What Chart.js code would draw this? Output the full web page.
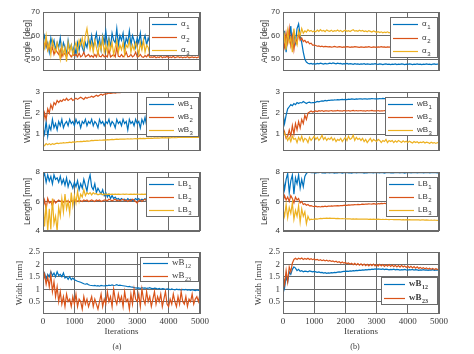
<!DOCTYPE html>
<html>
<head>
<meta charset="utf-8">
<script src="https://cdn.jsdelivr.net/npm/chart.js@4.4.1/dist/chart.umd.min.js"></script>
<style>
  html, body { margin: 0; padding: 0; background: #fff; }
  #page { position: relative; width: 474px; height: 354px; overflow: hidden; }
  #page canvas { position: absolute; }
  .cap { position: absolute; width: 40px; text-align: center; font: 8px "Liberation Serif", serif; color: #3a3a3a; line-height: 10px; }
</style>
</head>
<body>
<div id="page">
  <canvas id="a1" width="237" height="80" style="left:0;top:0"></canvas>
  <canvas id="b1" width="237" height="80" style="left:237px;top:0"></canvas>
  <canvas id="a2" width="237" height="80" style="left:0;top:80px"></canvas>
  <canvas id="b2" width="237" height="80" style="left:237px;top:80px"></canvas>
  <canvas id="a3" width="237" height="80" style="left:0;top:160px"></canvas>
  <canvas id="b3" width="237" height="80" style="left:237px;top:160px"></canvas>
  <canvas id="a4" width="237" height="114" style="left:0;top:240px"></canvas>
  <canvas id="b4" width="237" height="114" style="left:237px;top:240px"></canvas>
  <div class="cap" style="left:97px;top:342px">(a)</div>
  <div class="cap" style="left:335px;top:342px">(b)</div>
</div>
<script>
// iteration axis shared by every panel
const iterations = [0,50,100,150,200,250,300,350,400,450,
  500,550,600,650,700,750,800,850,900,950,
  1000,1050,1100,1150,1200,1250,1300,1350,1400,1450,
  1500,1550,1600,1650,1700,1750,1800,1850,1900,1950,
  2000,2050,2100,2150,2200,2250,2300,2350,2400,2450,
  2500,2550,2600,2650,2700,2750,2800,2850,2900,2950,
  3000,3050,3100,3150,3200,3250,3300,3350,3400,3450,
  3500,3550,3600,3650,3700,3750,3800,3850,3900,3950,
  4000,4050,4100,4150,4200,4250,4300,4350,4400,4450,
  4500,4550,4600,4650,4700,4750,4800,4850,4900,4950,
  5000];
const xTicks = [0, 1000, 2000, 3000, 4000, 5000];
const angleTicks = [50, 60, 70];
const widthTicks = [1, 2, 3];
const lengthTicks = [4, 6, 8];
const jointTicks = [0.5, 1, 1.5, 2, 2.5];

const angleLabels = ['α1', 'α2', 'α3'];
const widthLabels = ['wB1', 'wB2', 'wB3'];
const lengthLabels = ['LB1', 'LB2', 'LB3'];
const jointLabels = ['wB12', 'wB23'];

// (a) angles
const angleA1 = [58,60,55,57,53,59,56,58,54,57, 55,59,53,57,55,52,58,54,56,53,
  56,52,57,54,58,55,53,57,55,59, 56,60,55,58,61,56,59,54,60,57,
  62,56,59,55,61,58,57,63,56,60, 58,61,55,59,57,62,56,60,58,55,
  59,57,61,55,58,60,56,59,57,54, 58,60,56,59,61,57,55,60,58,64,
  57,59,55,58,60,56,59,57,55,58, 60,56,58,55,59,57,61,56,58,62, 59];
const angleA2 = [57,55,58,54,56,53,55,52,54,53, 52,54,51,53,52,51,53,52,51,52,
  51.5,52,51,52.5,51,51.5,53,51,51.5,52, 51,51.5,50.8,52,51,53,51.2,51,52,51,
  51.5,51,54,51,51.5,52,51,55,51.2,51, 52,51,51.5,53,51,51.2,52,51,51.5,53,
  51,51.2,52,51,50.8,51.5,51,52,50.8,51, 50.8,51.2,50.6,51,50.7,51.3,50.6,51,50.8,51.2,
  50.6,51,50.7,51.2,50.6,50.9,51.1,50.7,51,50.6, 50.9,50.7,51.1,50.6,50.8,51,50.7,50.9,50.6,51, 50.8];
const angleA3 = [59,55,60,54,57,52,58,55,53,57, 54,50,56,52,55,49,57,53,56,52,
  55,57,53,58,56,59,55,60,63,58, 54,57,53,58,55,52,57,54,59,53,
  56,53,58,54,57,52,55,58,53,56, 54,57,52,56,55,58,53,56,54,57,
  55,52,57,54,58,53,56,55,52,57, 54,56,53,58,55,52,57,54,56,53,
  57,54,56,53,58,55,52,56,54,57, 53,56,55,52,57,54,56,53,58,55, 56];

// (b) angles
const angleB1 = [56,62,53,60,58,64,55,61,57,63, 65,60,57,53,50,48.8,48.3,48.0,48.2,47.9,
  48.1,47.9,48.2,48.0,48.3,48.1,47.9,48.2,48.0,48.1, 48.3,48.1,48.4,48.2,48.0,48.3,48.1,48.2,47.9,48.1,
  48.0,48.2,47.9,48.1,48.0,47.8,48.1,47.9,48.0,47.8, 48.0,47.9,48.1,47.8,48.0,47.9,47.8,48.0,47.9,48.1,
  47.9,47.8,48.0,47.9,47.7,47.9,48.0,47.8,47.9,47.7, 47.9,47.8,48.0,47.7,47.9,47.8,48.0,47.9,47.7,47.9,
  47.8,48.0,47.9,47.7,47.9,47.8,48.0,47.8,47.9,47.7, 47.9,47.8,48.0,47.8,47.9,47.7,47.9,48.0,47.8,47.9, 47.9];
const angleB2 = [58,55,61,57,63,56,60,54,59,57, 61,58,59,57.5,58,57,57.5,56.5,56.8,56,
  56,55.8,55.5,55.6,55.3,55.5,55.2,55.4,55.3,55.2, 55.3,55.1,55.2,55.4,55.2,55.1,55.3,55.2,55.0,55.2,
  55.1,55.3,55.2,55.0,55.2,55.1,55.3,55.2,55.1,55.0, 55.2,55.1,55.0,55.2,55.1,55.3,55.1,55.0,55.2,55.1,
  55.0,55.2,55.1,55.3,55.1,55.2,55.0,55.2,55.1,55.2, 55.1,55.3,55.2,55.1,55.3,55.2,55.4,55.2,55.3,55.2,
  55.3,55.2,55.4,55.3,55.2,55.4,55.3,55.5,55.3,55.4, 55.3,55.5,55.4,55.3,55.5,55.4,55.6,55.4,55.5,55.6, 55.5];
const angleB3 = [55,60,54,62,57,59,53,63,58,56, 62,60,63,61,62,61.5,62.5,61.8,62.2,61.6,
  62.0,61.6,62.3,61.8,62.5,61.9,62.2,61.7,62.4,62.0, 61.8,62.3,61.7,62.1,61.9,62.4,61.8,62.2,61.6,62.0,
  62.3,61.8,62.1,61.7,62.2,62.5,61.9,62.1,61.8,62.3, 61.9,62.2,61.7,62.0,61.6,62.1,61.8,61.5,62.0,61.7,
  61.4,61.7,61.3,61.6,61.2,61.5,61.3,61.6,61.2,61.4, 61.3,61.5,61.2,61.4,61.1,61.3,61.0,61.4,61.2,61.1,
  61.3,61.0,61.2,60.9,61.1,61.2,60.9,61.1,60.8,61.0, 60.9,61.1,60.8,61.0,60.7,60.9,60.6,60.8,60.7,60.9, 60.6];

// (a) widths
const widthA1 = [1.3,1.0,1.6,0.9,1.4,1.2,1.7,1.3,1.5,1.2, 1.6,1.4,1.7,1.3,1.5,1.6,1.4,1.7,1.5,1.6,
  1.4,1.7,1.5,1.6,1.3,1.6,1.5,1.7,1.4,1.6, 1.5,1.7,1.4,1.6,1.5,1.3,1.7,1.5,1.6,1.4,
  1.6,1.5,1.7,1.4,1.6,1.5,1.3,1.7,1.5,1.6, 1.4,1.7,1.5,1.6,1.2,1.7,1.5,1.6,1.4,1.7,
  1.5,1.6,1.3,1.7,1.5,1.8,1.4,1.6,1.7,1.5, 1.8,1.4,1.7,1.9,1.5,1.8,1.6,1.9,1.7,1.8,
  1.9,1.7,1.8,1.6,1.9,1.7,1.8,1.9,1.7,1.8, 1.6,1.9,1.7,1.8,1.9,1.6,1.8,1.7,1.9,2.0, 1.8];
const widthA2 = [1.4,2.0,1.7,2.2,2.0,2.4,2.2,2.5,2.4,2.6, 2.5,2.6,2.55,2.65,2.6,2.7,2.6,2.65,2.7,2.6,
  2.65,2.7,2.65,2.7,2.75,2.7,2.65,2.75,2.7,2.75, 2.75,2.8,2.75,2.8,2.85,2.8,2.85,2.9,2.85,2.9,
  2.9,2.92,2.95,2.93,2.95,2.97,2.95,2.97,2.98,2.97, 2.98,2.99,2.98,3.0,2.99,3.0,2.99,3.0,3.0,2.99,
  3.0,2.99,3.0,3.0,2.99,3.0,3.0,2.99,3.0,3.0, 2.99,3.0,3.0,2.99,3.0,3.0,3.0,2.99,3.0,3.0,
  3.0,2.99,3.0,3.0,3.0,2.99,3.0,3.0,2.99,3.0, 3.0,3.0,2.99,3.0,3.0,2.99,3.0,3.0,3.0,2.99, 3.0];
const widthA3 = [0.5,0.45,0.55,0.5,0.55,0.5,0.55,0.52,0.55,0.57, 0.55,0.58,0.57,0.6,0.58,0.6,0.6,0.62,0.6,0.63,
  0.62,0.63,0.65,0.64,0.66,0.65,0.67,0.66,0.68,0.67, 0.68,0.7,0.69,0.7,0.71,0.7,0.72,0.71,0.72,0.73,
  0.72,0.74,0.73,0.74,0.75,0.74,0.75,0.76,0.75,0.76, 0.76,0.77,0.76,0.77,0.78,0.77,0.78,0.77,0.78,0.79,
  0.78,0.79,0.8,0.79,0.8,0.79,0.8,0.81,0.8,0.81, 0.8,0.82,0.81,0.82,0.81,0.82,0.83,0.82,0.83,0.82,
  0.83,0.82,0.84,0.83,0.84,0.83,0.85,0.84,0.85,0.84, 0.85,0.84,0.86,0.85,0.86,0.85,0.86,0.85,0.86,0.85, 0.86];

// (b) widths
const widthB1 = [2.0,1.5,1.9,2.2,2.3,2.4,2.35,2.45,2.4,2.5, 2.45,2.5,2.48,2.55,2.5,2.45,2.5,2.52,2.48,2.5,
  2.5,2.52,2.55,2.53,2.56,2.58,2.57,2.6,2.58,2.6, 2.6,2.62,2.61,2.63,2.62,2.64,2.63,2.64,2.65,2.64,
  2.65,2.64,2.66,2.65,2.67,2.66,2.65,2.67,2.66,2.68, 2.67,2.66,2.68,2.67,2.66,2.68,2.67,2.69,2.68,2.67,
  2.68,2.67,2.69,2.68,2.7,2.69,2.68,2.7,2.69,2.71, 2.7,2.69,2.71,2.7,2.69,2.71,2.7,2.69,2.7,2.68,
  2.69,2.68,2.7,2.69,2.68,2.7,2.69,2.68,2.69,2.67, 2.68,2.67,2.69,2.68,2.67,2.68,2.66,2.68,2.67,2.66, 2.67];
const widthB2 = [1.3,1.1,0.8,0.9,1.2,0.9,1.4,1.0,1.5,1.2, 1.6,1.3,1.7,1.5,1.9,1.7,2.0,2.05,2.1,2.05,
  2.08,2.1,2.07,2.11,2.09,2.12,2.08,2.1,2.11,2.09, 2.1,2.12,2.09,2.11,2.1,2.13,2.1,2.11,2.09,2.12,
  2.11,2.1,2.12,2.09,2.11,2.13,2.1,2.12,2.1,2.11, 2.12,2.1,2.11,2.09,2.12,2.1,2.11,2.13,2.1,2.11,
  2.1,2.12,2.09,2.11,2.1,2.12,2.1,2.11,2.09,2.1, 2.11,2.09,2.1,2.12,2.1,2.09,2.11,2.1,2.12,2.1,
  2.09,2.11,2.1,2.08,2.1,2.11,2.09,2.1,2.08,2.1, 2.09,2.1,2.08,2.1,2.09,2.11,2.08,2.1,2.09,2.08, 2.1];
const widthB3 = [1.2,1.0,0.9,0.7,0.85,0.65,0.9,0.75,0.8,0.6, 0.85,0.7,0.9,0.65,0.8,0.75,0.6,0.85,0.7,0.8,
  0.9,0.75,0.85,0.7,0.8,0.95,0.75,0.85,0.7,0.8, 0.75,0.85,0.7,0.8,0.65,0.75,0.7,0.8,0.65,0.75,
  0.85,0.7,0.9,0.75,0.8,0.95,0.7,0.85,0.75,0.8, 0.7,0.8,0.65,0.75,0.6,0.7,0.8,0.65,0.75,0.7,
  0.65,0.75,0.7,0.6,0.7,0.65,0.75,0.6,0.7,0.65, 0.7,0.6,0.68,0.62,0.7,0.65,0.6,0.68,0.62,0.66,
  0.6,0.66,0.62,0.58,0.65,0.6,0.64,0.58,0.62,0.6, 0.64,0.58,0.62,0.6,0.56,0.62,0.58,0.6,0.56,0.6, 0.58];

// (a) lengths
const lengthA1 = [7.6,7.9,7.3,7.8,7.4,7.7,7.2,7.8,7.5,7.6, 7.3,7.7,7.2,7.5,7.1,7.6,7.0,7.4,7.2,6.9,
  7.3,7.0,7.4,6.8,7.2,6.9,7.5,7.1,6.7,7.4, 7.8,7.0,6.8,7.2,6.6,6.9,6.7,6.5,6.8,6.4,
  6.6,6.3,6.5,6.2,6.4,6.2,6.3,6.15,6.2,6.1, 6.2,6.1,6.15,6.05,6.2,6.1,6.15,6.05,6.1,6.2,
  6.1,6.2,6.05,6.15,6.1,6.2,6.05,6.1,6.15,6.05, 6.15,6.1,6.2,6.05,6.1,6.15,6.05,6.2,6.1,6.15,
  6.05,6.15,6.1,6.2,6.05,6.1,6.15,6.1,6.05,6.2, 6.1,6.15,6.05,6.1,6.2,6.1,6.05,6.15,6.1,6.05, 6.1];
const lengthA2 = [5.6,6.1,5.5,6.2,5.9,6.0,5.7,6.1,5.9,6.0, 6.1,6.0,6.05,5.95,6.1,6.0,6.05,5.95,6.1,6.0,
  6.05,6.1,6.0,6.1,6.05,6.0,6.1,6.05,6.1,6.0, 6.05,6.1,6.05,6.0,6.1,6.05,6.1,6.0,6.05,6.1,
  6.1,6.05,6.15,6.1,6.05,6.1,6.15,6.05,6.1,6.05, 6.1,6.15,6.05,6.1,6.0,6.1,6.05,6.15,6.1,6.0,
  5.9,6.05,6.1,6.0,6.1,6.15,6.05,6.1,6.0,6.1, 6.05,6.15,6.1,6.05,6.15,6.1,6.0,6.1,6.15,6.05,
  6.1,6.05,6.15,6.1,6.0,6.1,6.05,6.15,6.1,6.05, 6.1,6.15,6.05,6.1,6.15,6.05,6.1,6.0,6.1,6.05, 6.1];
const lengthA3 = [6.0,4.3,5.8,4.0,5.5,4.1,6.2,4.5,5.0,4.0, 5.6,5.0,6.2,5.3,6.5,5.5,6.0,5.2,6.6,5.7,
  6.4,5.9,6.7,6.0,6.5,6.3,6.8,6.4,6.6,6.5, 6.6,6.45,6.6,6.5,6.55,6.45,6.5,6.55,6.45,6.5,
  6.5,6.48,6.5,6.49,6.5,6.48,6.5,6.49,6.5,6.48, 6.49,6.5,6.48,6.5,6.49,6.48,6.5,6.49,6.5,6.48,
  6.5,6.49,6.48,6.5,6.49,6.5,6.48,6.49,6.5,6.49, 6.48,6.5,6.49,6.48,6.5,6.49,6.5,6.48,6.49,6.5,
  6.49,6.48,6.5,6.49,6.5,6.48,6.49,6.5,6.48,6.49, 6.5,6.49,6.48,6.5,6.49,6.48,6.5,6.49,6.48,6.5, 6.49];

// (b) lengths
const lengthB1 = [7.6,6.8,7.5,7.9,6.6,7.4,7.8,6.5,7.6,7.2, 7.8,6.9,7.5,7.0,7.7,7.9,8.0,7.98,7.95,7.97,
  7.96,7.93,7.97,7.95,7.98,7.94,7.96,7.93,7.97,7.95, 7.94,7.97,7.95,7.93,7.96,7.94,7.97,7.95,7.93,7.96,
  7.95,7.97,7.94,7.96,7.93,7.95,7.97,7.94,7.96,7.95, 7.97,7.95,7.93,7.96,7.94,7.97,7.95,7.96,7.94,7.97,
  7.95,7.96,7.94,7.97,7.95,7.93,7.96,7.95,7.97,7.94, 7.96,7.94,7.97,7.95,7.96,7.94,7.97,7.95,7.93,7.96,
  7.95,7.97,7.94,7.96,7.95,7.97,7.94,7.96,7.95,7.97, 7.94,7.96,7.95,7.97,7.94,7.96,7.95,7.97,7.96,7.94, 7.96];
const lengthB2 = [6.0,6.4,6.1,6.3,6.0,6.4,6.2,5.9,6.3,6.1, 6.2,5.9,6.0,5.8,5.85,5.75,5.8,5.7,5.72,5.68,
  5.65,5.68,5.64,5.66,5.63,5.67,5.65,5.68,5.66,5.69, 5.68,5.7,5.69,5.71,5.7,5.72,5.71,5.73,5.72,5.74,
  5.75,5.74,5.77,5.76,5.78,5.77,5.79,5.78,5.8,5.79, 5.8,5.82,5.81,5.83,5.82,5.84,5.83,5.82,5.85,5.84,
  5.8,5.86,5.84,5.87,5.85,5.88,5.86,5.85,5.88,5.87, 5.88,5.86,5.89,5.88,5.9,5.87,5.91,5.89,5.9,5.88,
  5.9,5.92,5.89,5.91,5.93,5.9,5.92,5.91,5.94,5.92, 5.93,5.95,5.92,5.94,5.96,5.93,5.95,5.97,5.96,5.98, 6.0];
const lengthB3 = [5.5,5.0,5.8,4.9,5.6,5.2,5.9,4.8,5.4,5.0, 5.7,4.6,5.5,5.0,5.3,4.5,5.0,4.75,4.8,4.78,
  4.8,4.82,4.81,4.83,4.85,4.84,4.86,4.85,4.87,4.86, 4.87,4.86,4.85,4.86,4.84,4.85,4.84,4.83,4.84,4.83,
  4.83,4.82,4.83,4.82,4.81,4.82,4.81,4.82,4.8,4.81, 4.81,4.8,4.81,4.8,4.8,4.79,4.8,4.79,4.8,4.79,
  4.79,4.8,4.79,4.78,4.79,4.78,4.79,4.78,4.77,4.78, 4.78,4.77,4.78,4.77,4.78,4.77,4.76,4.77,4.76,4.77,
  4.76,4.77,4.76,4.75,4.76,4.75,4.76,4.75,4.74,4.75, 4.75,4.74,4.75,4.74,4.73,4.74,4.73,4.74,4.73,4.72, 4.73];

// (a) joint widths
const jointA1 = [1.5,1.65,1.4,1.6,1.5,1.7,1.55,1.65,1.5,1.7, 1.55,1.6,1.5,1.65,1.45,1.5,1.4,1.5,1.38,1.45,
  1.38,1.35,1.32,1.3,1.28,1.25,1.22,1.2,1.22,1.18, 1.16,1.15,1.14,1.15,1.13,1.14,1.12,1.15,1.14,1.13,
  1.15,1.14,1.16,1.15,1.17,1.15,1.16,1.18,1.15,1.16, 1.15,1.14,1.13,1.12,1.1,1.11,1.09,1.08,1.07,1.05,
  1.04,1.05,1.03,1.06,1.04,1.05,1.03,1.04,1.06,1.03, 1.02,1.04,1.03,1.01,1.03,1.0,1.02,1.01,0.99,1.01,
  1.0,0.98,1.01,0.99,0.97,1.0,0.98,0.99,0.96,0.99, 0.97,0.99,0.96,0.98,0.95,0.98,0.96,0.94,0.97,0.95, 0.96];
const jointA2 = [1.3,1.6,1.2,1.5,1.1,1.6,0.9,1.3,0.7,1.1, 0.5,0.9,0.4,0.7,0.3,0.8,0.5,0.6,0.3,0.7,
  0.4,0.8,0.3,0.6,0.5,0.2,0.7,0.4,0.6,0.3, 0.5,0.7,0.3,0.6,0.4,0.2,0.5,0.8,0.3,0.6,
  0.4,0.9,0.5,0.7,0.3,1.0,0.6,0.4,0.8,0.5, 0.7,0.3,0.9,0.5,0.6,0.2,0.8,0.4,1.0,0.6,
  0.5,0.8,0.3,1.0,0.6,0.4,0.9,0.5,0.7,0.3, 0.6,0.9,0.4,0.7,0.5,0.8,0.3,0.6,0.9,0.4,
  0.3,0.6,0.4,0.8,0.5,0.3,0.7,0.4,0.9,0.5, 0.4,0.7,0.3,0.6,0.5,0.8,0.4,0.6,0.7,0.5, 0.8];

// (b) joint widths
const jointB1 = [1.45,1.05,1.5,1.3,1.7,1.6,1.8,1.9,1.85,1.75, 1.8,1.72,1.75,1.7,1.73,1.72,1.7,1.74,1.72,1.7,
  1.72,1.7,1.68,1.7,1.67,1.68,1.65,1.67,1.64,1.66, 1.65,1.67,1.66,1.68,1.67,1.69,1.7,1.69,1.71,1.72,
  1.72,1.73,1.72,1.74,1.73,1.75,1.74,1.76,1.75,1.77, 1.76,1.78,1.77,1.79,1.78,1.8,1.79,1.81,1.8,1.82,
  1.8,1.82,1.81,1.8,1.82,1.79,1.81,1.8,1.78,1.8, 1.79,1.81,1.78,1.8,1.79,1.77,1.79,1.78,1.8,1.78,
  1.77,1.79,1.78,1.8,1.77,1.79,1.78,1.76,1.78,1.77, 1.79,1.77,1.78,1.76,1.78,1.77,1.79,1.76,1.78,1.77, 1.78];
const jointB2 = [1.6,1.2,1.75,1.3,1.9,1.7,2.05,2.2,2.25,2.2, 2.25,2.22,2.26,2.2,2.24,2.21,2.25,2.2,2.23,2.19,
  2.22,2.18,2.2,2.16,2.19,2.15,2.18,2.14,2.17,2.13, 2.16,2.12,2.14,2.1,2.13,2.08,2.11,2.06,2.1,2.05,
  2.08,2.03,2.06,2.01,2.05,1.99,2.04,1.98,2.03,1.97, 2.02,1.96,2.01,1.95,2.0,1.94,2.0,1.95,2.01,1.94,
  1.99,1.93,2.0,1.94,1.99,1.92,1.98,1.93,1.99,1.92, 1.97,1.91,1.96,1.9,1.95,1.89,1.96,1.9,1.94,1.88,
  1.93,1.87,1.92,1.86,1.91,1.85,1.9,1.84,1.88,1.83, 1.87,1.82,1.86,1.81,1.85,1.8,1.84,1.79,1.83,1.8, 1.78];

const COLORS = ['#0072BD', '#D95319', '#EDB120'];
const SANS = '"Liberation Sans", Arial, sans-serif';
const SERIF = '"Liberation Serif", "Times New Roman", serif';
const TEXT = '#3a3a3a';
const GRID = '#6a6a6a';

// axes box + legend drawn inside the plot area
const boxLegend = {
  id: 'boxLegend',
  afterDraw(chart, args, o) {
    const { ctx, chartArea: a } = chart;
    ctx.save();
    ctx.strokeStyle = '#6a6a6a';
    ctx.lineWidth = 1;
    ctx.strokeRect(a.left + 0.5, a.top + 0.5, a.right - a.left - 1, a.bottom - a.top - 1);

    const x0 = a.right - o.right - o.w;
    const y0 = o.corner === 'se' ? a.bottom - o.bottom - o.h : a.top + o.top;
    ctx.fillStyle = '#fff';
    ctx.fillRect(x0, y0, o.w, o.h);
    ctx.strokeRect(x0 + 0.5, y0 + 0.5, o.w - 1, o.h - 1);
    const sets = chart.data.datasets;
    const rowH = o.h / sets.length;
    sets.forEach((ds, i) => {
      const cy = Math.round(y0 + rowH * (i + 0.5));
      ctx.strokeStyle = ds.borderColor;
      ctx.lineWidth = 1.2;
      ctx.beginPath();
      ctx.moveTo(x0 + 3, cy + 0.5);
      ctx.lineTo(x0 + 3 + o.line, cy + 0.5);
      ctx.stroke();
      const m = ds.label.match(/^(.*?)(\d+)$/);
      const tx = x0 + 3 + o.line + 4;
      ctx.fillStyle = TEXT;
      ctx.textAlign = 'left';
      ctx.textBaseline = 'middle';
      ctx.font = `${o.weight} ${o.size}px ${o.family}`;
      ctx.fillText(m[1], tx, cy);
      const bw = ctx.measureText(m[1]).width;
      ctx.font = `${o.weight} ${Math.round(o.size * 0.72)}px ${o.family}`;
      ctx.fillText(m[2], tx + bw + 0.5, cy + o.size * 0.38);
    });
    ctx.restore();
  }
};

function panel(p) {
  const family = p.bottom ? SERIF : SANS;
  const fs = p.bottom ? 9 : 8;
  const datasets = p.labels.map((label, i) => ({
    label,
    data: iterations.map((x, k) => ({ x, y: p.series[i][k] })),
    borderColor: COLORS[i],
    borderWidth: 1.2,
    pointRadius: 0,
    fill: false,
    order: p.labels.length - 1 - i
  }));
  new Chart(document.getElementById(p.id), {
    type: 'line',
    data: { datasets },
    options: {
      responsive: false,
      animation: false,
      devicePixelRatio: 1,
      layout: { padding: { left: 0, right: p.right, top: 12, bottom: 0 } },
      plugins: {
        legend: { display: false },
        tooltip: { enabled: false },
        boxLegend: Object.assign({ family, size: fs, weight: 'normal', right: 1, top: 5, bottom: 9, line: 25 }, p.legend)
      },
      scales: {
        x: {
          type: 'linear', min: 0, max: 5000,
          afterBuildTicks: s => { s.ticks = xTicks.map(v => ({ value: v })); },
          afterFit: s => { s.height = p.xh; },
          grid: { color: GRID, drawTicks: false },
          border: { display: false },
          ticks: { display: !!p.bottom, padding: 2, autoSkip: false, maxRotation: 0, color: TEXT,
            font: { family, size: fs }, callback: v => String(v) },
          title: { display: !!p.bottom, text: 'Iterations', color: TEXT,
            font: { family, size: 9 }, padding: { top: 0, bottom: 16.6 } }
        },
        y: {
          min: p.y[0], max: p.y[1],
          afterBuildTicks: s => { s.ticks = p.ticks.map(v => ({ value: v })); },
          afterFit: s => { s.width = p.left; },
          grid: { color: GRID, drawTicks: false },
          border: { display: false },
          ticks: { padding: 3, color: TEXT, font: { family, size: fs }, callback: v => String(v) },
          title: { display: true, text: p.title, color: TEXT,
            font: { family, size: p.bottom ? 9 : 8.5 }, padding: { top: p.tpad, bottom: 0 } }
        }
      }
    },
    plugins: [boxLegend]
  });
}

const colA = { left: 43, right: 37 };
const colB = { left: 46, right: 35 };

panel(Object.assign({ id: 'a1', labels: angleLabels, series: [angleA1, angleA2, angleA3], y: [45, 70], ticks: angleTicks,
  title: 'Angle [deg]', xh: 9, tpad: 22.9, legend: { w: 50, h: 39 } }, colA));
panel(Object.assign({ id: 'b1', labels: angleLabels, series: [angleB1, angleB2, angleB3], y: [45, 70], ticks: angleTicks,
  title: 'Angle [deg]', xh: 9, tpad: 22.9, legend: { w: 48, h: 41 } }, colB));
panel(Object.assign({ id: 'a2', labels: widthLabels, series: [widthA1, widthA2, widthA3], y: [0.2, 3], ticks: widthTicks,
  title: 'Width [mm]', xh: 9, tpad: 22.9, legend: { w: 53, h: 40 } }, colA));
panel(Object.assign({ id: 'b2', labels: widthLabels, series: [widthB1, widthB2, widthB3], y: [0.2, 3], ticks: widthTicks,
  title: 'Width [mm]', xh: 9, tpad: 22.9, legend: { w: 53, h: 39 } }, colB));
panel(Object.assign({ id: 'a3', labels: lengthLabels, series: [lengthA1, lengthA2, lengthA3], y: [4, 8], ticks: lengthTicks,
  title: 'Length [mm]', xh: 9, tpad: 22.9, legend: { w: 53, h: 40 } }, colA));
panel(Object.assign({ id: 'b3', labels: lengthLabels, series: [lengthB1, lengthB2, lengthB3], y: [4, 8], ticks: lengthTicks,
  title: 'Length [mm]', xh: 9, tpad: 22.9, legend: { w: 52, h: 40 } }, colB));
panel(Object.assign({ id: 'a4', labels: jointLabels, series: [jointA1, jointA2], y: [0, 2.5], ticks: jointTicks,
  title: 'Width [mm]', xh: 40, tpad: 14.6, bottom: true, legend: { w: 59, h: 25 } }, colA));
panel(Object.assign({ id: 'b4', labels: jointLabels, series: [jointB1, jointB2], y: [0, 2.5], ticks: jointTicks,
  title: 'Width [mm]', xh: 40, tpad: 16.6, bottom: true, legend: { w: 57, h: 28, corner: 'se', weight: 'bold', line: 21 } }, colB));
</script>
</body>
</html>
